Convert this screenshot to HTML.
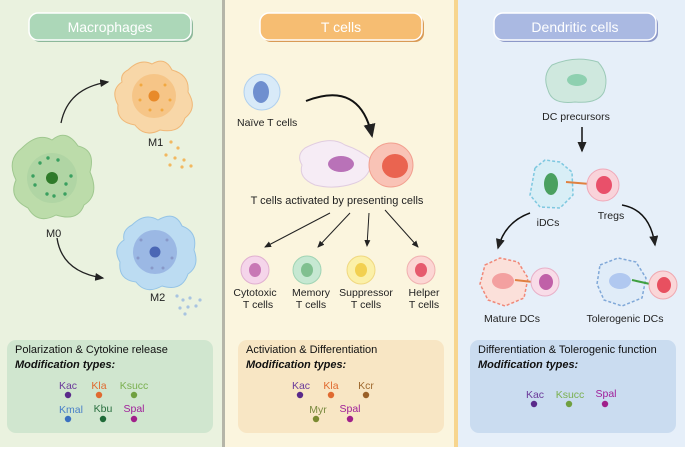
<!DOCTYPE html>
<html><head><meta charset="utf-8"><style>
body{margin:0;width:685px;height:447px;overflow:hidden;font-family:"Liberation Sans",sans-serif}
svg text{font-family:"Liberation Sans",sans-serif}
</style></head><body>
<svg width="685" height="447" viewBox="0 0 685 447" xmlns="http://www.w3.org/2000/svg">
<defs>
<marker id="a" markerWidth="8" markerHeight="8" refX="6" refY="3" orient="auto"><path d="M0,0 L7,3 L0,6 Z" fill="#222"/></marker>
</defs>
<rect x="0" y="0" width="223" height="447" fill="#eaf2df"/>
<rect x="222" y="0" width="3" height="447" fill="#b5b5a8"/>
<rect x="225" y="0" width="230" height="447" fill="#fbf5de"/>
<rect x="454" y="0" width="4" height="447" fill="#f7d58e"/>
<rect x="458" y="0" width="227" height="447" fill="#e6eff9"/>

<!-- title pills -->
<rect x="31" y="15" width="162" height="27" rx="9" fill="#8cb89a"/>
<rect x="29" y="13" width="162" height="27" rx="9" fill="#acd7b8" stroke="#fff" stroke-width="1.5"/>
<text x="110" y="32" font-size="14" fill="#fff" text-anchor="middle">Macrophages</text>
<rect x="262" y="15" width="162" height="27" rx="9" fill="#d99a55"/>
<rect x="260" y="13" width="162" height="27" rx="9" fill="#f6bd72" stroke="#fff" stroke-width="1.5"/>
<text x="341" y="32" font-size="14" fill="#fff" text-anchor="middle">T cells</text>
<rect x="496" y="15" width="162" height="27" rx="9" fill="#8c98c8"/>
<rect x="494" y="13" width="162" height="27" rx="9" fill="#aab9e2" stroke="#fff" stroke-width="1.5"/>
<text x="575" y="32" font-size="14" fill="#fff" text-anchor="middle">Dendritic cells</text>

<!-- Macrophages -->
<path d="M22,148 Q38,132 52,140 Q66,128 78,146 Q96,150 90,172 Q100,195 84,205 Q78,222 56,215 Q38,225 28,208 Q8,198 16,180 Q6,160 22,148Z" fill="#bcdcaa" stroke="#a0c890"/>
<circle cx="52" cy="178" r="25" fill="#a8d0a0" opacity=".6"/>
<circle cx="52" cy="178" r="6" fill="#2f7a2a"/>
<g fill="#3aa060"><circle cx="40" cy="163" r="1.7"/><circle cx="58" cy="160" r="1.7"/><circle cx="35" cy="185" r="1.7"/><circle cx="66" cy="184" r="1.7"/><circle cx="33" cy="176" r="1.7"/><circle cx="71" cy="176" r="1.7"/><circle cx="54" cy="196" r="1.7"/><circle cx="48" cy="158" r="1.7"/><circle cx="47" cy="194" r="1.7"/><circle cx="65" cy="194" r="1.7"/></g>
<text x="46" y="237" font-size="11" fill="#222">M0</text>
<path d="M128,70 Q140,58 152,64 Q165,56 172,70 Q190,75 188,92 Q198,108 185,118 Q180,134 160,130 Q145,138 135,125 Q116,122 118,105 Q110,90 122,82 Q120,74 128,70Z" fill="#f8d7a8" stroke="#f0b878"/>
<circle cx="154" cy="96" r="22" fill="#f4b060" opacity=".45"/><circle cx="154" cy="96" r="5.5" fill="#e88a2a"/>
<g fill="#f2a840"><circle cx="141" cy="85" r="1.5"/><circle cx="165" cy="85" r="1.5"/><circle cx="140" cy="100" r="1.5"/><circle cx="170" cy="100" r="1.5"/><circle cx="150" cy="110" r="1.5"/><circle cx="162" cy="110" r="1.5"/></g>
<text x="148" y="146" font-size="11" fill="#222">M1</text>
<g fill="#f2b860"><circle cx="171" cy="142" r="1.6"/><circle cx="178" cy="148" r="1.6"/><circle cx="166" cy="155" r="1.6"/><circle cx="175" cy="158" r="1.6"/><circle cx="184" cy="160" r="1.6"/><circle cx="170" cy="165" r="1.6"/><circle cx="182" cy="167" r="1.6"/><circle cx="191" cy="166" r="1.6"/></g>
<path d="M132,225 Q145,212 158,220 Q175,210 182,226 Q198,232 194,250 Q200,266 188,274 Q182,292 162,286 Q146,295 136,282 Q118,280 120,262 Q112,248 124,240 Q122,230 132,225Z" fill="#bcdcf2" stroke="#95c4e6"/>
<circle cx="155" cy="252" r="22" fill="#7f9ad8" opacity=".55"/><circle cx="155" cy="252" r="5.5" fill="#4b67b5"/>
<g fill="#8898c8"><circle cx="141" cy="240" r="1.5"/><circle cx="167" cy="240" r="1.5"/><circle cx="138" cy="258" r="1.5"/><circle cx="172" cy="258" r="1.5"/><circle cx="152" cy="268" r="1.5"/><circle cx="163" cy="268" r="1.5"/></g>
<text x="150" y="301" font-size="11" fill="#222">M2</text>
<g fill="#a8c4e0"><circle cx="177" cy="296" r="1.6"/><circle cx="183" cy="300" r="1.6"/><circle cx="190" cy="298" r="1.6"/><circle cx="180" cy="308" r="1.6"/><circle cx="188" cy="307" r="1.6"/><circle cx="196" cy="306" r="1.6"/><circle cx="185" cy="314" r="1.6"/><circle cx="200" cy="300" r="1.6"/></g>
<path d="M61,123 Q68,88 108,82" fill="none" stroke="#222" stroke-width="1.3" marker-end="url(#a)"/>
<path d="M57,238 Q62,272 103,278" fill="none" stroke="#222" stroke-width="1.3" marker-end="url(#a)"/>

<!-- T cells -->
<circle cx="262" cy="92" r="18" fill="#d8eaf8" stroke="#b0d0ee"/>
<ellipse cx="261" cy="92" rx="8" ry="11" fill="#6f8fcf"/>
<text x="237" y="126" font-size="10.5" fill="#222">Naïve T cells</text>
<path d="M306,101 Q360,80 372,136" fill="none" stroke="#111" stroke-width="2" marker-end="url(#a)"/>
<path d="M305,148 Q330,135 345,145 Q360,150 372,160 Q370,178 355,183 Q335,190 315,185 Q298,178 302,165 Q296,155 305,148Z" fill="#f6ecf5" stroke="#e0cce0"/>
<ellipse cx="341" cy="164" rx="13" ry="8" fill="#b972b8"/>
<circle cx="374" cy="165" r="4" fill="#9ac04a"/>
<circle cx="391" cy="165" r="22" fill="#f9c3b6" stroke="#f2a090"/>
<ellipse cx="395" cy="166" rx="13" ry="12" fill="#ea6450"/>
<text x="337" y="204" font-size="11" fill="#222" text-anchor="middle">T cells activated by presenting cells</text>
<g stroke="#222" stroke-width="1" marker-end="url(#a)">
<line x1="330" y1="213" x2="265" y2="247"/><line x1="350" y1="213" x2="318" y2="247"/>
<line x1="369" y1="213" x2="367" y2="246"/><line x1="385" y1="210" x2="418" y2="247"/></g>
<circle cx="255" cy="270" r="14" fill="#f5d5ea" stroke="#e0b0d0"/><ellipse cx="255" cy="270" rx="6" ry="7" fill="#c878b5"/>
<circle cx="307" cy="270" r="14" fill="#c6e8d2" stroke="#a0d4b4"/><ellipse cx="307" cy="270" rx="6" ry="7" fill="#80c090"/>
<circle cx="361" cy="270" r="14" fill="#fbf0a8" stroke="#f0d880"/><ellipse cx="361" cy="270" rx="6" ry="7" fill="#f2d050"/>
<circle cx="421" cy="270" r="14" fill="#fcd6d4" stroke="#f0b0b0"/><ellipse cx="421" cy="270" rx="6" ry="7" fill="#e65a6e"/>
<g font-size="10.5" fill="#222" text-anchor="middle">
<text x="255" y="296">Cytotoxic</text><text x="258" y="308">T cells</text>
<text x="311" y="296">Memory</text><text x="311" y="308">T cells</text>
<text x="366" y="296">Suppressor</text><text x="366" y="308">T cells</text>
<text x="424" y="296">Helper</text><text x="424" y="308">T cells</text></g>

<!-- Dendritic -->
<path d="M552,65 Q575,55 598,62 Q610,75 604,92 Q598,104 575,102 Q552,105 548,90 Q542,75 552,65Z" fill="#cfe8de" stroke="#9ccab8"/>
<ellipse cx="577" cy="80" rx="10" ry="6" fill="#8ed0b0"/>
<text x="576" y="120" font-size="10.5" fill="#222" text-anchor="middle">DC precursors</text>
<line x1="582" y1="127" x2="582" y2="151" stroke="#111" stroke-width="1.5" marker-end="url(#a)"/>
<path d="M535,168 L545,160 L560,162 L572,172 L573,195 L560,208 L540,207 L530,195 Z" fill="#d8eef6" stroke="#7ec8e0" stroke-width="1.5" stroke-dasharray="3 2"/>
<ellipse cx="551" cy="184" rx="7" ry="11" fill="#4aa060"/>
<line x1="566" y1="182" x2="590" y2="184" stroke="#e08040" stroke-width="2"/>
<circle cx="603" cy="185" r="16" fill="#f9d3da" stroke="#f0a8b8"/><ellipse cx="604" cy="185" rx="8" ry="9" fill="#e9506a"/>
<text x="548" y="226" font-size="10.5" fill="#222" text-anchor="middle">iDCs</text>
<text x="611" y="219" font-size="10.5" fill="#222" text-anchor="middle">Tregs</text>
<path d="M530,213 Q505,222 498,248" fill="none" stroke="#111" stroke-width="1.5" marker-end="url(#a)"/>
<path d="M622,205 Q650,210 655,245" fill="none" stroke="#111" stroke-width="1.5" marker-end="url(#a)"/>
<path d="M485,265 L500,258 L518,262 L528,278 L524,298 L505,306 L488,300 L480,284 Z" fill="#fbe0da" stroke="#f08878" stroke-width="1.5" stroke-dasharray="3 2"/>
<ellipse cx="503" cy="281" rx="11" ry="8" fill="#f3a0a0"/>
<line x1="515" y1="280" x2="533" y2="282" stroke="#e08040" stroke-width="2"/>
<circle cx="545" cy="282" r="14" fill="#f8dce8" stroke="#e8b0c8"/><ellipse cx="546" cy="282" rx="7" ry="8" fill="#c060a8"/>
<path d="M600,265 L618,258 L636,262 L646,278 L642,298 L622,306 L604,300 L597,284 Z" fill="#e0ecf8" stroke="#80a8d8" stroke-width="1.5" stroke-dasharray="3 2"/>
<ellipse cx="620" cy="281" rx="11" ry="8" fill="#b0c8f0"/>
<line x1="632" y1="280" x2="650" y2="284" stroke="#40a040" stroke-width="2"/>
<circle cx="663" cy="285" r="14" fill="#fad6d8" stroke="#f0a8b0"/><ellipse cx="664" cy="285" rx="7" ry="8" fill="#e85060"/>
<text x="512" y="322" font-size="10.5" fill="#222" text-anchor="middle">Mature DCs</text>
<text x="625" y="322" font-size="10.5" fill="#222" text-anchor="middle">Tolerogenic DCs</text>

<!-- bottom boxes -->
<rect x="7" y="340" width="206" height="93" rx="9" fill="#d0e6cf"/>
<rect x="238" y="340" width="206" height="93" rx="9" fill="#f8e6c4"/>
<rect x="470" y="340" width="206" height="93" rx="9" fill="#cadcf0"/>
<g font-size="11" fill="#111">
<text x="15" y="353">Polarization &amp; Cytokine release</text>
<text x="246" y="353">Activiation &amp; Differentiation</text>
<text x="478" y="353">Differentiation &amp; Tolerogenic function</text></g>
<g font-size="11" fill="#111" font-weight="bold" font-style="italic">
<text x="15" y="368">Modification types:</text><text x="246" y="368">Modification types:</text><text x="478" y="368">Modification types:</text></g>
<g font-size="10.5" text-anchor="middle">
<text x="68" y="389" fill="#6b3a9a">Kac</text><circle cx="68" cy="395" r="3.2" fill="#5a2a8a"/>
<text x="99" y="389" fill="#e06a30">Kla</text><circle cx="99" cy="395" r="3.2" fill="#e06a30"/>
<text x="134" y="389" fill="#7ab050">Ksucc</text><circle cx="134" cy="395" r="3.2" fill="#70a040"/>
<text x="71" y="413" fill="#4a80c8">Kmal</text><circle cx="68" cy="419" r="3.2" fill="#3a70c0"/>
<text x="103" y="412" fill="#2a7040">Kbu</text><circle cx="103" cy="419" r="3.2" fill="#1f6a38"/>
<text x="134" y="412" fill="#a0209a">Spal</text><circle cx="134" cy="419" r="3.2" fill="#a0208a"/>
<text x="301" y="389" fill="#6b3a9a">Kac</text><circle cx="300" cy="395" r="3.2" fill="#5a2a8a"/>
<text x="331" y="389" fill="#e06a30">Kla</text><circle cx="331" cy="395" r="3.2" fill="#e06a30"/>
<text x="366" y="389" fill="#a06a30">Kcr</text><circle cx="366" cy="395" r="3.2" fill="#9a6028"/>
<text x="318" y="413" fill="#7a8a40">Myr</text><circle cx="316" cy="419" r="3.2" fill="#7a8a30"/>
<text x="350" y="412" fill="#a0209a">Spal</text><circle cx="350" cy="419" r="3.2" fill="#a0208a"/>
<text x="535" y="398" fill="#6b3a9a">Kac</text><circle cx="534" cy="404" r="3.2" fill="#5a2a8a"/>
<text x="570" y="398" fill="#7ab050">Ksucc</text><circle cx="569" cy="404" r="3.2" fill="#70a040"/>
<text x="606" y="397" fill="#a0209a">Spal</text><circle cx="605" cy="404" r="3.2" fill="#a0208a"/>
</g>
</svg>
</body></html>
